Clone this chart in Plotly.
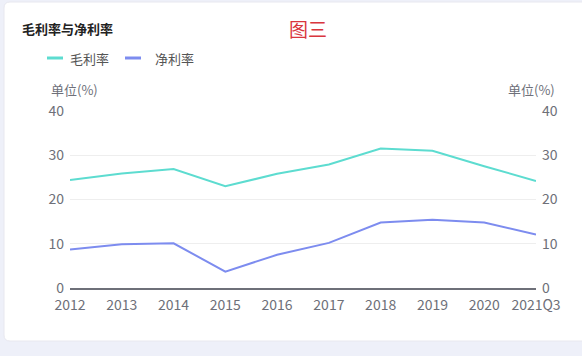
import plotly.graph_objects as go

categories = ["2012", "2013", "2014", "2015", "2016", "2017", "2018", "2019", "2020", "2021Q3"]
gross_margin = [24.4, 25.9, 26.9, 23.0, 25.8, 27.9, 31.5, 31.0, 27.5, 24.2]
net_margin = [8.7, 9.9, 10.1, 3.7, 7.5, 10.2, 14.8, 15.4, 14.8, 12.1]
y_ticks = [0, 10, 20, 30, 40]
series_names = ["毛利率", "净利率"]

W, H = 582, 356
ML, MR, MT, MB = 70, 46, 111, 68
PW, PH = W - ML - MR, H - MT - MB
FONT = "Noto Sans CJK SC, Noto Sans, sans-serif"
GREEN = "#5ddcd0"
PURPLE = "#7d8cef"
GRAY = "#6e7079"


def px(x):
    return (x - ML) / PW


def py(y):
    return (H - MB - y) / PH


fig = go.Figure()
fig.add_trace(go.Scatter(x=categories, y=gross_margin, name=series_names[0], mode="lines",
                         line=dict(color=GREEN, width=2), yaxis="y"))
fig.add_trace(go.Scatter(x=categories, y=net_margin, name=series_names[1], mode="lines",
                         line=dict(color=PURPLE, width=2), yaxis="y2"))

# card background (rounded rectangle)
L, T, R, B, r = 4, 2, 600, 341, 6
path = (f"M {px(L + r)},{py(T)} L {px(R)},{py(T)} L {px(R)},{py(B)} "
        f"L {px(L + r)},{py(B)} Q {px(L)},{py(B)} {px(L)},{py(B - r)} "
        f"L {px(L)},{py(T + r)} Q {px(L)},{py(T)} {px(L + r)},{py(T)} Z")
shapes = [dict(type="path", xref="paper", yref="paper", path=path,
               fillcolor="white", line=dict(color="#e8e8ef", width=1), layer="below")]

# legend swatches
for xs, col in [(47, GREEN), (125, PURPLE)]:
    shapes.append(dict(type="line", xref="paper", yref="paper",
                       x0=px(xs), x1=px(xs + 16), y0=py(58), y1=py(58),
                       line=dict(color=col, width=3)))

annotations = [
    dict(text="<b>毛利率与净利率</b>", x=px(20), y=py(28), xanchor="left", yanchor="middle",
         font=dict(size=13, color="#222222", family=FONT)),
    dict(text="图三", x=px(287), y=py(28), xanchor="left", yanchor="middle",
         font=dict(size=19, color="#d9363e", family=FONT)),
    dict(text=series_names[0], x=px(68), y=py(58), xanchor="left", yanchor="middle",
         font=dict(size=13, color="#555555", family=FONT)),
    dict(text=series_names[1], x=px(153), y=py(58), xanchor="left", yanchor="middle",
         font=dict(size=13, color="#555555", family=FONT)),
    dict(text="单位(%)", x=px(49), y=py(89), xanchor="left", yanchor="middle",
         font=dict(size=13, color=GRAY, family=FONT)),
    dict(text="单位(%)", x=px(557), y=py(89), xanchor="right", yanchor="middle",
         font=dict(size=13, color=GRAY, family=FONT)),
]
for a in annotations:
    a.update(xref="paper", yref="paper", showarrow=False)

fig.update_layout(
    width=W, height=H,
    margin=dict(l=ML, r=MR, t=MT, b=MB),
    paper_bgcolor="#eef0f9",
    plot_bgcolor="rgba(0,0,0,0)",
    showlegend=False,
    shapes=shapes,
    annotations=annotations,
    font=dict(family=FONT, color=GRAY, size=14),
    xaxis=dict(type="category", range=[0, len(categories) - 1], showgrid=False,
               showline=True, linecolor=GRAY, linewidth=2, ticks="", zeroline=False,
               ticklabelstandoff=3, tickfont=dict(size=14, color=GRAY)),
    yaxis=dict(range=[0, 40], tickvals=y_ticks, showgrid=True, gridcolor="#eeeeee",
               gridwidth=1, zeroline=False, ticks="", ticklabelstandoff=5,
               tickfont=dict(size=14, color=GRAY)),
    yaxis2=dict(range=[0, 40], tickvals=y_ticks, overlaying="y", side="right",
                showgrid=False, zeroline=False, ticks="", ticklabelstandoff=5,
                tickfont=dict(size=14, color=GRAY)),
)

fig.write_html("out.html", config={"displayModeBar": False},
               post_script="document.body.style.margin='0';document.body.style.overflow='hidden';")
